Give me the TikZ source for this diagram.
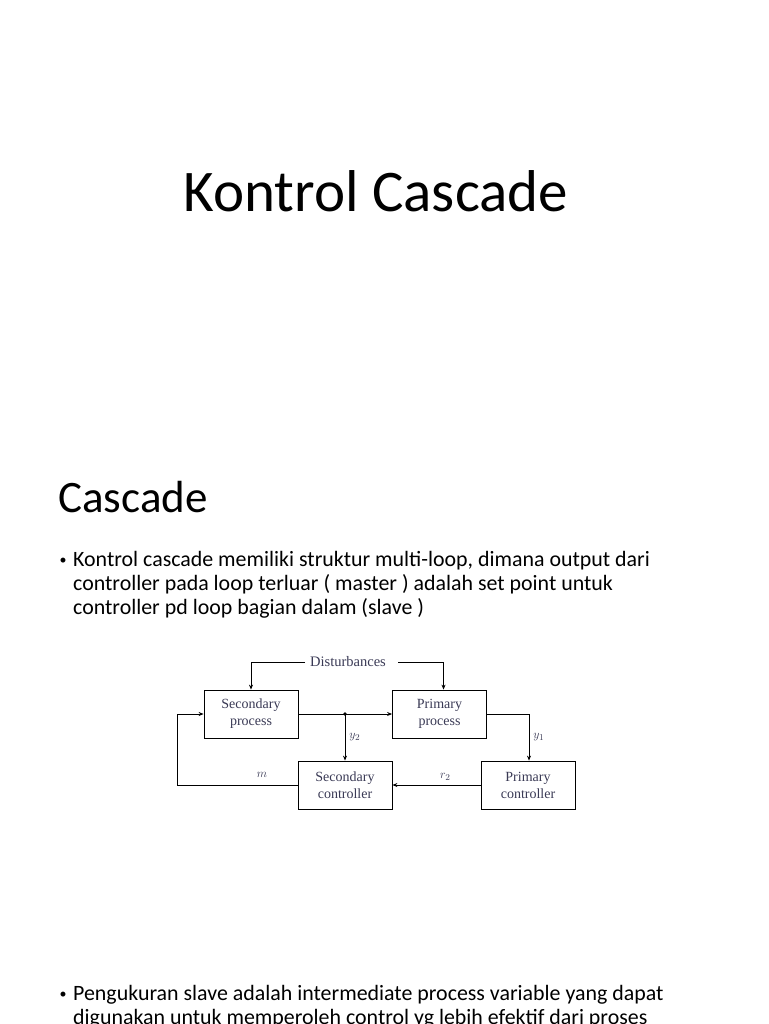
\documentclass[tikz,border=0pt]{standalone}
\usepackage{fontspec}
\setmainfont{Carlito}
\newfontfamily\diagfont{Liberation Serif}
\usetikzlibrary{arrows.meta}
\definecolor{dtext}{HTML}{3A3A55}
\begin{document}
\begin{tikzpicture}[x=1pt,y=-1pt,
  blk/.style={draw=black,line width=0.8pt,minimum width=94pt,minimum height=48pt,inner sep=0pt,align=center,font=\diagfont\fontsize{14}{17}\selectfont,text=dtext},
  conn/.style={draw=black,line width=0.8pt,-{Stealth[length=5pt,width=4pt]}},
  plain/.style={draw=black,line width=0.8pt},
  lbl/.style={font=\diagfont\itshape\fontsize{13}{15}\selectfont,text=dtext,inner sep=1pt},
  bul/.style={anchor=center,font=\fontsize{14}{16}\selectfont,inner sep=0pt},
  body/.style={anchor=north west,font=\fontsize{21.9}{24}\selectfont,inner sep=0pt,align=left}]
\useasboundingbox[fill=white] (0,0) rectangle (768,1024);
% titles
\node[font=\fontsize{59}{70}\selectfont,inner sep=0pt] (title) at (376,191) {Kontrol Cascade};
\node[font=\fontsize{45}{54}\selectfont,anchor=west,inner sep=0pt] (head) at (58,497) {Cascade};
\node[bul] (b1dot) at (63,561) {•};
\node[body] (b1) at (73,551) {Kontrol cascade memiliki struktur multi-loop, dimana output dari\\controller pada loop terluar ( master ) adalah set point untuk\\controller pd loop bagian dalam (slave )};
\node[bul] (b2dot) at (63,995) {•};
\node[body] (b2) at (73,985) {Pengukuran slave adalah intermediate process variable yang dapat\\digunakan untuk memperoleh control yg lebih efektif dari proses};
% diagram
\node[blk] (sp) at (251,714) {Secondary\\process};
\node[blk] (pp) at (439.5,714) {Primary\\process};
\node[blk] (sc) at (345,785) {Secondary\\controller};
\node[blk] (pc) at (528,785) {Primary\\controller};
\node[font=\diagfont\fontsize{14.5}{16}\selectfont,text=dtext,inner sep=0pt] (dist) at (348,662) {Disturbances};
\coordinate (dl) at (305,662);
\coordinate (dr) at (398,662);
\draw[conn] (dl) -| (sp.north);
\draw[conn] (dr) -| ([xshift=4pt]pp.north);
\coordinate (j) at (345,714);
\draw[conn] (sp.east) -- (pp.west);
\fill (j) circle (1.8pt);
\draw[conn] (j) -- (sc.north) node[lbl,pos=0.5,right=3pt] (y2) {$y_2$};
\coordinate (pe) at (529,714);
\draw[plain] (pp.east) -- (pe);
\draw[conn] (pe) -- (pe|-pc.north) node[lbl,pos=0.5,right=3pt] (y1) {$y_1$};
\draw[conn] (pc.west) -- (sc.east) node[lbl,pos=0.4,above=3pt] (r2) {$r_2$};
\coordinate (ml) at (177,785);
\coordinate (mu) at (177,714);
\draw[conn] (sc.west) -- (ml) -- (mu) -- (sp.west);
\node[lbl] (m) at (262,775) {$m$};
\end{tikzpicture}
\end{document}
